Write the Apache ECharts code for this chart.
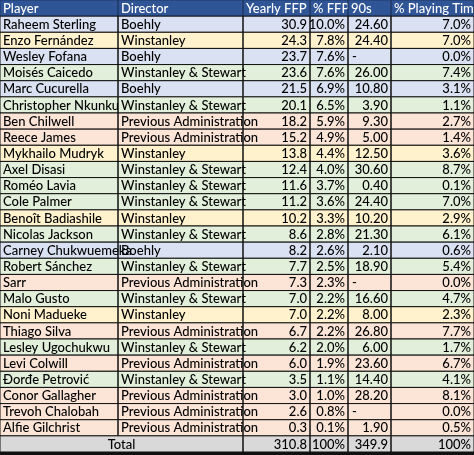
<!DOCTYPE html>
<html><head><meta charset="utf-8">
<script src="https://cdn.jsdelivr.net/npm/echarts@6/dist/echarts.min.js"></script>
<style>html,body{margin:0;padding:0;background:#fff}#c{width:474px;height:455px}</style>
</head><body><div id="c"></div>
<script>
const headers = ["Player","Director","Yearly FFP Hi","% FFP","90s","% Playing Time"];
const players = ["Raheem Sterling","Enzo Fernández","Wesley Fofana","Moisés Caicedo","Marc Cucurella","Christopher Nkunku","Ben Chilwell","Reece James","Mykhailo Mudryk","Axel Disasi","Roméo Lavia","Cole Palmer","Benoît Badiashile","Nicolas Jackson","Carney Chukwuemeka","Robert Sánchez","Sarr","Malo Gusto","Noni Madueke","Thiago Silva","Lesley Ugochukwu","Levi Colwill","Đorđe Petrović","Conor Gallagher","Trevoh Chalobah","Alfie Gilchrist"];
const directors = ["Boehly","Winstanley","Boehly","Winstanley & Stewart","Boehly","Winstanley & Stewart","Previous Administration","Previous Administration","Winstanley","Winstanley & Stewart","Winstanley & Stewart","Winstanley & Stewart","Winstanley","Winstanley & Stewart","Boehly","Winstanley & Stewart","Previous Administration","Winstanley & Stewart","Winstanley","Previous Administration","Winstanley & Stewart","Previous Administration","Winstanley & Stewart","Previous Administration","Previous Administration","Previous Administration"];
const ffp = ["30.9","24.3","23.7","23.6","21.5","20.1","18.2","15.2","13.8","12.4","11.6","11.2","10.2","8.6","8.2","7.7","7.3","7.0","7.0","6.7","6.2","6.0","3.5","3.0","2.6","0.3"];
const ffpPct = ["10.0%","7.8%","7.6%","7.6%","6.9%","6.5%","5.9%","4.9%","4.4%","4.0%","3.7%","3.6%","3.3%","2.8%","2.6%","2.5%","2.3%","2.2%","2.2%","2.2%","2.0%","1.9%","1.1%","1.0%","0.8%","0.1%"];
const nineties = ["24.60","24.40","-","26.00","10.80","3.90","9.30","5.00","12.50","30.60","0.40","24.40","10.20","21.30","2.10","18.90","-","16.60","8.00","26.80","6.00","23.60","14.40","28.20","-","1.90"];
const playPct = ["7.0%","7.0%","0.0%","7.4%","3.1%","1.1%","2.7%","1.4%","3.6%","8.7%","0.1%","7.0%","2.9%","6.1%","0.6%","5.4%","0.0%","4.7%","2.3%","7.7%","1.7%","6.7%","4.1%","8.1%","0.0%","0.5%"];
const totals = ["Total","","310.8","100%","349.9","100%"];

const colBounds = [0,118,243,310,348,391,474];
const align = ["left","left","right","right","right","right"];
const dirColor = {"Boehly":"#d9e1f2","Winstanley":"#fff2cc","Winstanley & Stewart":"#e2efda","Previous Administration":"#fce4d6"};
const rows = [headers];
players.forEach((p,i)=>rows.push([p,directors[i],ffp[i],ffpPct[i],nineties[i],playPct[i]]));
rows.push(totals);
const nRows = rows.length;

function renderItem(params, api){
  const r = api.value(0);
  const row = rows[r];
  const top = api.coord([0, r]);
  const size = api.size([1, 1]);
  const h = size[1];
  const y0 = top[1] - h/2;
  const children = [];
  let bg = r===0 ? '#2f5597' : (r===nRows-1 ? '#d9d9d9' : dirColor[row[1]]);
  const tc = r===0 ? '#fff' : '#000';
  const x0 = api.coord([colBounds[0], r])[0], x1 = api.coord([colBounds[6], r])[0];
  children.push({type:'rect',shape:{x:x0,y:y0,width:x1-x0,height:h},style:{fill:bg,stroke:null}});
  for(let c=0;c<6;c++){
    const a = api.coord([colBounds[c], r])[0], b = api.coord([colBounds[c+1], r])[0];
    const merged = r===nRows-1 && c<2;
    if(!(r===nRows-1 && c===1)){
      const L = merged ? x0 : a, R = merged ? api.coord([colBounds[2], r])[0] : b;
      children.push({type:'rect',shape:{x:L,y:y0,width:R-L,height:h},style:{fill:null,stroke:r===0?'#1f3864':'#111',lineWidth:1}});
    }
    let txt = row[c]; if(!txt) continue;
    let al = r===0 ? 'left' : align[c];
    let tx;
    if(merged){ al='center'; tx=(x0+api.coord([colBounds[2], r])[0])/2; }
    else if(c===4 && txt==='-'){ al='left'; tx=a+4; }
    else tx = al==='left' ? a+3 : b-3;
    children.push({type:'text',style:{x:tx,y:y0+h/2+0.5,text:txt,align:al,verticalAlign:'middle',
      fontFamily:'Lato',fontSize:13,fontWeight:500,fill:tc},
      clipPath: r===0 ? {type:'rect',shape:{x:a,y:y0,width:b-a,height:h}} : undefined});
  }
  return {type:'group',children};
}

const chart = echarts.init(document.getElementById('c'),null,{renderer:'canvas'});
chart.setOption({
  animation:false,
  grid:{left:0,right:0,top:0,bottom:3,containLabel:false},
  xAxis:{type:'value',min:0,max:474,show:false},
  yAxis:{type:'category',inverse:true,data:rows.map((_,i)=>i),show:false},
  graphic:[{type:'rect',left:0,bottom:0,shape:{width:474,height:3},style:{fill:'#111'}}],
  series:[{type:'custom',renderItem,data:rows.map((_,i)=>[i]),encode:{y:0}}]
});
</script></body></html>
